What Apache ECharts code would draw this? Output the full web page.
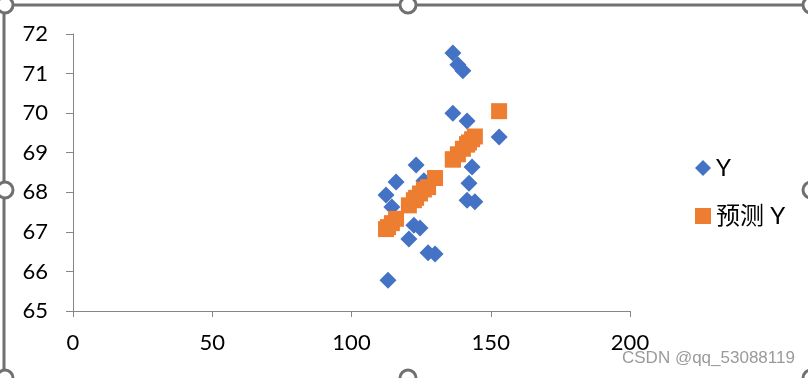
<!DOCTYPE html>
<html><head><meta charset="utf-8">
<script src="https://cdn.jsdelivr.net/npm/echarts@6/dist/echarts.min.js"></script>
<style>html,body{margin:0;padding:0;background:#fff}#c{width:808px;height:378px}</style>
</head><body><div id="c"></div>
<script>
const xValues = [136.4,138.2,140.0,136.4,141.5,153.0,143.3,142.2,141.5,144.3,112.4,114.5,116.0,123.2,126.0,122.4,124.6,120.6,127.5,130.0,113.1];
const yActual = [71.52,71.22,71.07,70.0,69.80,69.40,68.64,68.23,67.8,67.76,67.93,67.63,68.26,68.69,68.29,67.17,67.10,66.82,66.47,66.44,65.78];
const yPredicted = [68.83,68.96,69.10,68.83,69.21,70.05,69.34,69.26,69.21,69.41,67.07,67.22,67.33,67.86,68.07,67.80,67.97,67.67,68.13,68.36,67.12];
const seriesNames = ['Y', '预测 Y'];
const xTicks = {min: 0, max: 200, interval: 50};
const yTicks = {min: 65, max: 72, interval: 1};

const chart = echarts.init(document.getElementById('c'), null, {renderer: 'canvas'});
const font = 'Lato, "Open Sans", "Noto Sans CJK SC", sans-serif';
const handle = (x, y) => ({type: 'circle', shape: {cx: x, cy: y, r: 8}, style: {fill: '#fff', stroke: '#707070', lineWidth: 3}, z: 100});
chart.setOption({
  animation: false,
  grid: {left: 73, right: 178, top: 34, bottom: 67},
  xAxis: {
    type: 'value', min: xTicks.min, max: xTicks.max, interval: xTicks.interval,
    axisLine: {show: true, lineStyle: {color: '#868686', width: 1}},
    axisTick: {show: true, length: 6, lineStyle: {color: '#868686'}},
    splitLine: {show: false},
    axisLabel: {color: '#000', fontSize: 22, fontFamily: font, margin: 21}
  },
  yAxis: {
    type: 'value', min: yTicks.min, max: yTicks.max, interval: yTicks.interval,
    axisLine: {show: true, lineStyle: {color: '#868686', width: 1}},
    axisTick: {show: true, length: 7, lineStyle: {color: '#868686'}},
    splitLine: {show: false},
    axisLabel: {color: '#000', fontSize: 22, fontFamily: font, margin: 25}
  },
  legend: {
    orient: 'vertical', left: 690, top: 151, itemGap: 24,
    itemWidth: 16, itemHeight: 16,
    textStyle: {fontSize: 24, color: '#000', fontFamily: font},
    data: [{name: seriesNames[0], icon: 'diamond'}, {name: seriesNames[1], icon: 'rect'}]
  },
  series: [
    {name: seriesNames[0], type: 'scatter', symbol: 'diamond', symbolSize: 17,
     itemStyle: {color: '#4472C4', opacity: 1}, z: 2,
     data: xValues.map((x, i) => [x, yActual[i]])},
    {name: seriesNames[1], type: 'scatter', symbol: 'rect', symbolSize: 16,
     itemStyle: {color: '#ED7D31', opacity: 1}, z: 3,
     data: xValues.map((x, i) => [x, yPredicted[i]])}
  ],
  graphic: [
    {type: 'line', shape: {x1: 0, y1: 5, x2: 808, y2: 5}, style: {stroke: '#707070', lineWidth: 3}, z: 99},
    {type: 'line', shape: {x1: 4, y1: 0, x2: 4, y2: 378}, style: {stroke: '#707070', lineWidth: 3}, z: 99},
    handle(5, 5), handle(408, 5), handle(5, 190), handle(811, 190), handle(5, 378), handle(408, 378), handle(811, 378), handle(811, 5),
    {type: 'text', left: 622, top: 350, style: {text: 'CSDN @qq_53088119', fill: '#9a9a9a', fontSize: 17, fontFamily: '"Liberation Sans", sans-serif'}, z: 101}
  ]
});
</script></body></html>
